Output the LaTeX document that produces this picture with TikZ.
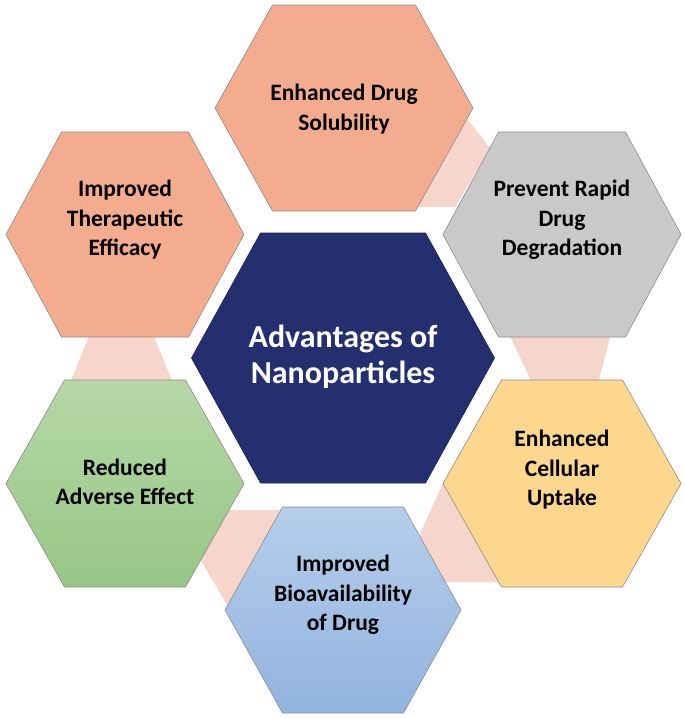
\documentclass[tikz,border=0pt]{standalone}
\usepackage{fontspec}
\setmainfont{Carlito}
\definecolor{salmonc}{HTML}{F4AC8E}
\definecolor{greyc}{HTML}{C9C9C9}
\definecolor{yellowc}{HTML}{FED78F}
\definecolor{greentop}{HTML}{B6D8A7}
\definecolor{greenbot}{HTML}{96C685}
\definecolor{bluetop}{HTML}{B6CEEB}
\definecolor{bluebot}{HTML}{91B3DF}
\definecolor{navyc}{HTML}{232F6E}
\definecolor{pinkc}{HTML}{F6D5CA}
\newcommand\HexShape[6]{\path[#1] (#2-#4,#3) -- (#2-#5,#3-#6) -- (#2+#5,#3-#6) -- (#2+#4,#3) -- (#2+#5,#3+#6) -- (#2-#5,#3+#6) -- cycle;}
\begin{document}
\begin{tikzpicture}[x=1pt,y=-1pt,
  hexline/.style={draw=black!45,line width=0.6pt},
  pinkband/.style={fill=pinkc},
  lbl/.style={font=\fontsize{23.5}{29.5}\selectfont\bfseries,align=center,text=black,inner sep=0pt},
  ctr/.style={font=\fontsize{32}{36}\selectfont\bfseries,align=center,text=white,inner sep=0pt}]
\useasboundingbox[fill=white] (0,0) rectangle (685,718);
% pink linking bands
\fill[pinkband] (90,334) -- (153,334) -- (173,383) -- (70,383) -- cycle;
\fill[pinkband] (509,334) -- (611,334) -- (598,383) -- (532,383) -- cycle;
\fill[pinkband] (462,112) -- (490,148) -- (455,207) -- (410,207) -- cycle;
\fill[pinkband] (443,483) -- (418,538) -- (418,582) -- (500,582) -- (500,483) -- cycle;
\fill[pinkband] (215,510) -- (300,510) -- (300,620) -- (236,620) -- (190,542) -- cycle;
% hexagons
\HexShape{hexline,fill=salmonc}{344}{108}{129}{71.5}{103}
\HexShape{hexline,fill=salmonc}{125}{234.5}{119}{63.5}{102.5}
\HexShape{hexline,fill=greyc}{562}{234.5}{119}{63.5}{102.5}
\HexShape{hexline,top color=greentop,bottom color=greenbot}{125}{483.5}{119}{60.5}{103.5}
\HexShape{hexline,fill=yellowc}{562}{483.5}{119}{60.5}{103.5}
\HexShape{hexline,top color=bluetop,bottom color=bluebot}{343}{610}{118}{60.5}{103}
\HexShape{draw=navyc!70!black,line width=0.6pt,fill=navyc}{343}{358}{151.5}{82.5}{125}
% labels
\node[lbl] (t1) at (344,109) {Enhanced Drug\\Solubility};
\node[lbl] (t2) at (125,220) {Improved\\Therapeutic\\Efficacy};
\node[lbl] (t3) at (562,220) {Prevent Rapid\\Drug\\Degradation};
\node[lbl] (t4) at (125,482) {Reduced\\Adverse Effect};
\node[lbl] (t5) at (562,470) {Enhanced\\Cellular\\Uptake};
\node[lbl] (t6) at (343,595) {Improved\\Bioavailability\\of Drug};
\node[ctr] (tc) at (343,357) {Advantages of\\Nanoparticles};
\end{tikzpicture}
\end{document}
